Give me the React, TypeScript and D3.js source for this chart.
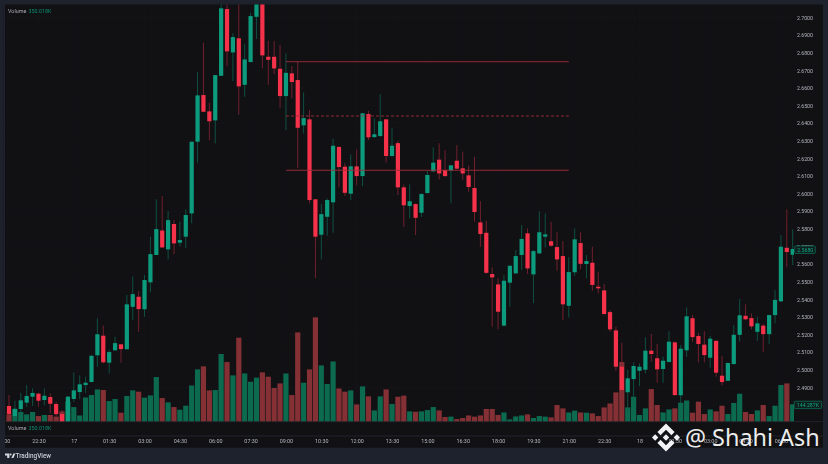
import * as d3 from 'd3';
import React, { useEffect, useRef } from 'react';

// 15 minute candles
const opens = [
  2.4795, 2.4738, 2.4778, 2.4814, 2.4848, 2.4865, 2.4829, 2.4846, 2.4806, 2.4749,
  2.4706, 2.4835, 2.4874, 2.4914, 2.4931, 2.5083, 2.5194, 2.5041, 2.5111, 2.5145,
  2.5117, 2.5358, 2.5415, 2.5344, 2.5497, 2.5652, 2.5791, 2.5684, 2.5828, 2.5722,
  2.5756, 2.5888, 2.6295, 2.6560, 2.6467, 2.6416, 2.6669, 2.7048, 2.6802, 2.6882,
  2.6618, 2.6747, 2.7004, 2.7110, 2.6777, 2.6777, 2.6709, 2.6554, 2.6683, 2.6645,
  2.6388, 2.6422, 2.5968, 2.5767, 2.5869, 2.5951, 2.6265, 2.6153, 2.6000, 2.6155,
  2.6100, 2.6452, 2.6321, 2.6327, 2.6422, 2.6214, 2.6287, 2.6036, 2.5930, 2.5941,
  2.5892, 2.6004, 2.6127, 2.6193, 2.6134, 2.6132, 2.6187, 2.6144, 2.6104, 2.6032,
  2.5837, 2.5778, 2.5544, 2.5485, 2.5251, 2.5495, 2.5548, 2.5652, 2.5775, 2.5542,
  2.5661, 2.5756, 2.5730, 2.5697, 2.5646, 2.5364, 2.5554, 2.5720, 2.5601, 2.5608,
  2.5472, 2.5451, 2.5328, 2.5224, 2.5018, 2.4873, 2.4948, 2.4995, 2.5001, 2.5109,
  2.5066, 2.5005, 2.5045, 2.5156, 2.4856, 2.5111, 2.5293, 2.5192, 2.5143, 2.5069,
  2.5165, 2.4967, 2.4938, 2.5033, 2.5199, 2.5307, 2.5294, 2.5216, 2.5251, 2.5203,
  2.5311, 2.5389, 2.5693, 2.5653,
];
const highs = [
  2.4857, 2.4825, 2.4869, 2.4914, 2.4895, 2.4870, 2.4895, 2.4867, 2.4819, 2.4772,
  2.4852, 2.4986, 2.4969, 2.4961, 2.5084, 2.5293, 2.5251, 2.5113, 2.5188, 2.5147,
  2.5425, 2.5529, 2.5447, 2.5538, 2.5756, 2.5968, 2.5987, 2.5900, 2.5850, 2.5841,
  2.5911, 2.6295, 2.6689, 2.6857, 2.6516, 2.6673, 2.7088, 2.7099, 2.6910, 2.7128,
  2.6848, 2.7027, 2.7156, 2.7167, 2.6868, 2.6866, 2.6845, 2.6797, 2.6724, 2.6749,
  2.6575, 2.6475, 2.5968, 2.5941, 2.5974, 2.6312, 2.6270, 2.6172, 2.6223, 2.6252,
  2.6459, 2.6471, 2.6428, 2.6566, 2.6422, 2.6374, 2.6299, 2.6051, 2.6053, 2.5945,
  2.6002, 2.6130, 2.6263, 2.6286, 2.6248, 2.6161, 2.6276, 2.6238, 2.6159, 2.6210,
  2.5957, 2.5846, 2.5582, 2.5521, 2.5538, 2.5591, 2.5680, 2.5822, 2.5803, 2.5680,
  2.5900, 2.5888, 2.5841, 2.5781, 2.5731, 2.5639, 2.5803, 2.5782, 2.5652, 2.5699,
  2.5557, 2.5487, 2.5340, 2.5245, 2.5154, 2.4999, 2.5043, 2.5037, 2.5185, 2.5203,
  2.5147, 2.5075, 2.5220, 2.5160, 2.5141, 2.5355, 2.5311, 2.5211, 2.5220, 2.5192,
  2.5165, 2.5079, 2.5041, 2.5254, 2.5402, 2.5372, 2.5321, 2.5302, 2.5260, 2.5311,
  2.5453, 2.5765, 2.5911, 2.5798,
];
const lows = [
  2.4734, 2.4715, 2.4755, 2.4791, 2.4795, 2.4791, 2.4800, 2.4753, 2.4734, 2.4698,
  2.4693, 2.4819, 2.4833, 2.4870, 2.4931, 2.5018, 2.5037, 2.4980, 2.5109, 2.5041,
  2.5117, 2.5283, 2.5216, 2.5302, 2.5440, 2.5652, 2.5691, 2.5627, 2.5657, 2.5703,
  2.5690, 2.5832, 2.6176, 2.6463, 2.6304, 2.6286, 2.6669, 2.6724, 2.6639, 2.6448,
  2.6550, 2.6747, 2.6878, 2.6711, 2.6618, 2.6679, 2.6488, 2.6361, 2.6541, 2.6144,
  2.6342, 2.5945, 2.5520, 2.5627, 2.5761, 2.5778, 2.6036, 2.5987, 2.5964, 2.6047,
  2.6043, 2.6304, 2.6319, 2.6325, 2.6176, 2.6211, 2.5992, 2.5812, 2.5860, 2.5765,
  2.5869, 2.6001, 2.6125, 2.6081, 2.6097, 2.5945, 2.6140, 2.6077, 2.6011, 2.5841,
  2.5699, 2.5544, 2.5245, 2.5230, 2.5249, 2.5358, 2.5546, 2.5567, 2.5544, 2.5378,
  2.5659, 2.5695, 2.5699, 2.5563, 2.5283, 2.5298, 2.5533, 2.5571, 2.5520, 2.5449,
  2.5434, 2.5314, 2.5216, 2.4995, 2.4829, 2.4755, 2.4829, 2.4908, 2.4980, 2.5046,
  2.4927, 2.4927, 2.5042, 2.4854, 2.4810, 2.5075, 2.5160, 2.5043, 2.5043, 2.5012,
  2.4961, 2.4912, 2.4937, 2.5031, 2.5160, 2.5285, 2.5230, 2.5165, 2.5103, 2.5147,
  2.5264, 2.5387, 2.5582, 2.5595,
];
const closes = [
  2.4749, 2.4779, 2.4827, 2.4852, 2.4869, 2.4825, 2.4853, 2.4808, 2.4749, 2.4706,
  2.4848, 2.4884, 2.4918, 2.4927, 2.5080, 2.5202, 2.5043, 2.5101, 2.5152, 2.5118,
  2.5372, 2.5430, 2.5345, 2.5510, 2.5657, 2.5799, 2.5695, 2.5850, 2.5718, 2.5737,
  2.5879, 2.6295, 2.6558, 2.6465, 2.6411, 2.6673, 2.7052, 2.6808, 2.6889, 2.6609,
  2.6762, 2.7008, 2.7099, 2.6785, 2.6760, 2.6711, 2.6554, 2.6686, 2.6634, 2.6374,
  2.6429, 2.5964, 2.5756, 2.5884, 2.5964, 2.6272, 2.6151, 2.6005, 2.6155, 2.6100,
  2.6456, 2.6320, 2.6337, 2.6411, 2.6214, 2.6272, 2.6036, 2.5934, 2.5957, 2.5863,
  2.5998, 2.6106, 2.6176, 2.6115, 2.6100, 2.6161, 2.6142, 2.6115, 2.6038, 2.5896,
  2.5771, 2.5551, 2.5525, 2.5330, 2.5506, 2.5591, 2.5646, 2.5743, 2.5576, 2.5674,
  2.5781, 2.5769, 2.5705, 2.5627, 2.5372, 2.5555, 2.5741, 2.5602, 2.5618, 2.5482,
  2.5463, 2.5317, 2.5230, 2.5018, 2.4886, 2.4952, 2.5022, 2.5018, 2.5109, 2.5090,
  2.5003, 2.5052, 2.5160, 2.4857, 2.5120, 2.5304, 2.5186, 2.5147, 2.5084, 2.5177,
  2.4984, 2.4931, 2.5039, 2.5199, 2.5310, 2.5287, 2.5247, 2.5264, 2.5203, 2.5311,
  2.5397, 2.5699, 2.5669, 2.5686,
];
// thousands
const volumes = [
  61, 106, 81, 61, 81, 47, 56, 56, 42, 86,
  167, 122, 52, 202, 222, 269, 264, 172, 189, 75,
  214, 261, 250, 200, 219, 372, 197, 161, 122, 100,
  133, 302, 436, 461, 261, 264, 564, 497, 386, 700,
  402, 333, 367, 411, 375, 281, 319, 402, 222, 744,
  325, 436, 869, 469, 314, 502, 277, 250, 261, 144,
  294, 211, 94, 211, 269, 147, 208, 217, 86, 83,
  86, 97, 122, 94, 39, 42, 22, 31, 52, 42,
  52, 106, 106, 56, 77, 19, 44, 52, 61, 31,
  47, 42, 36, 139, 111, 77, 92, 77, 75, 69,
  47, 119, 152, 244, 497, 119, 208, 56, 111, 272,
  139, 77, 102, 111, 158, 177, 75, 167, 64, 102,
  86, 133, 64, 156, 233, 81, 64, 94, 139, 47,
  133, 306, 319, 144.287,
];

const priceTicks = d3.range(49, 71).map((d) => d / 100 + 2);
const timeLabels = [
  '21:00', '22:30', '17', '01:30', '03:00', '04:30', '06:00', '07:30', '09:00', '10:30', '12:00', '13:30',
  '15:00', '16:30', '18:00', '19:30', '21:00', '22:30', '18', '01:30', '03:00', '04:30', '06:00',
];
const timeIndexes = timeLabels.map((_, i) => i * 6 - 1);

// drawn levels: start candle, end candle, price
const levelStart = 47;
const levelEnd = 95;
const levelPrices = [2.6749, 2.6441, 2.6133];
const levelDashes = ['', '3,2', ''];

const volumeLegend = '350.018K';
const volumeLast = '144.287K';
const lastPrice = '2.5680';

const GREEN = '#0d9b7e';
const RED = '#f5324a';
const FONT = 'Roboto, sans-serif';

const App: React.FC = () => {
  const ref = useRef<SVGSVGElement | null>(null);

  useEffect(() => {
    if (!ref.current) return;
    const width = 828;
    const height = 464;

    const svg = d3.select(ref.current);
    svg.selectAll('*').remove();

    const plot = { left: 5, right: 794, top: 4.5, bottom: 421.7 };
    const panelRight = 823;
    const footerTop = 447.7;

    const x = d3.scaleLinear().domain([0, 133]).range([9, 792.7]);
    const y = d3.scaleLinear().domain([2.7, 2.49]).range([17.5, 387.5]);
    const yVol = d3.scaleLinear().domain([0, 869]).range([plot.bottom, 317.4]);

    // the source screenshot is soft, everything but the watermark gets a slight blur
    const root = svg.append('g').style('filter', 'blur(0.35px)');

    root.append('rect').attr('width', width).attr('height', height).attr('fill', '#1e222d');
    root
      .append('rect')
      .attr('x', plot.left)
      .attr('y', plot.top)
      .attr('width', panelRight - plot.left)
      .attr('height', footerTop - plot.top)
      .attr('fill', '#111114');

    svg
      .append('clipPath')
      .attr('id', 'plot-clip')
      .append('rect')
      .attr('x', plot.left)
      .attr('y', plot.top)
      .attr('width', plot.right - plot.left)
      .attr('height', plot.bottom - plot.top);
    svg
      .append('clipPath')
      .attr('id', 'time-clip')
      .append('rect')
      .attr('x', plot.left)
      .attr('y', 436)
      .attr('width', panelRight - plot.left)
      .attr('height', 12);

    // Grid
    const grid = root.append('g').attr('stroke', '#19191d').attr('stroke-width', 0.7).attr('stroke-dasharray', '1,1');
    priceTicks.forEach((p) => {
      grid.append('line').attr('x1', plot.left).attr('x2', plot.right + 3).attr('y1', y(p)).attr('y2', y(p));
    });
    timeIndexes.forEach((t) => {
      grid.append('line').attr('x1', x(t)).attr('x2', x(t)).attr('y1', plot.top).attr('y2', plot.bottom);
    });

    const g = root.append('g').attr('clip-path', 'url(#plot-clip)');
    const idx = d3.range(opens.length);
    const isUp = (i: number) => closes[i] >= opens[i];

    // Volume bars
    g.append('g')
      .selectAll('rect')
      .data(idx)
      .enter()
      .append('rect')
      .attr('x', (i) => x(i) - 2.6)
      .attr('width', 5.2)
      .attr('y', (i) => yVol(volumes[i]))
      .attr('height', (i) => plot.bottom - yVol(volumes[i]))
      .attr('fill', (i) => (isUp(i) ? '#0c6a4f' : '#853035'));

    // Wicks
    g.append('g')
      .selectAll('line')
      .data(idx)
      .enter()
      .append('line')
      .attr('x1', (i) => x(i))
      .attr('x2', (i) => x(i))
      .attr('y1', (i) => y(highs[i]))
      .attr('y2', (i) => y(lows[i]))
      .attr('stroke-width', 0.8)
      .attr('stroke', (i) => (isUp(i) ? '#0e5f4d' : '#8a2333'));

    // Bodies
    g.append('g')
      .selectAll('rect')
      .data(idx)
      .enter()
      .append('rect')
      .attr('x', (i) => x(i) - 2.1)
      .attr('width', 4.2)
      .attr('y', (i) => y(Math.max(opens[i], closes[i])))
      .attr('height', (i) => Math.max(1, Math.abs(y(opens[i]) - y(closes[i]))))
      .attr('fill', (i) => (isUp(i) ? GREEN : RED));

    // Level lines
    levelPrices.forEach((p, i) => {
      root
        .append('line')
        .attr('x1', x(levelStart))
        .attr('x2', x(levelEnd))
        .attr('y1', y(p))
        .attr('y2', y(p))
        .attr('stroke', '#a32c3b')
        .attr('stroke-width', 0.9)
        .attr('stroke-dasharray', levelDashes[i]);
    });

    // Price axis
    const priceAxis = root
      .append('g')
      .attr('transform', `translate(${plot.right},0)`)
      .call(d3.axisRight(y).tickValues(priceTicks).tickSize(0).tickPadding(3).tickFormat(d3.format('.4f') as any));
    priceAxis.select('.domain').remove();
    priceAxis.selectAll('text').attr('fill', '#b4b7c0').style('font-family', FONT).style('font-size', '5.2px');

    // Panel separators
    [plot.bottom, 436].forEach((sy) => {
      root
        .append('line')
        .attr('x1', plot.left)
        .attr('x2', panelRight)
        .attr('y1', sy)
        .attr('y2', sy)
        .attr('stroke', '#2a2c33')
        .attr('stroke-width', 0.7);
    });

    // Time axis
    const timeAxis = root
      .append('g')
      .attr('clip-path', 'url(#time-clip)')
      .append('g')
      .attr('transform', 'translate(0,436)')
      .call(
        d3
          .axisBottom(x)
          .tickValues(timeIndexes)
          .tickSize(0)
          .tickPadding(3)
          .tickFormat((_, i) => timeLabels[i]) as any,
      );
    timeAxis.select('.domain').remove();
    timeAxis.selectAll('text').attr('fill', '#b4b7c0').style('font-family', FONT).style('font-size', '5.4px');

    // Volume legends
    [11.5, 428.5].forEach((ly) => {
      root
        .append('text')
        .attr('x', 8)
        .attr('y', ly + 1.8)
        .attr('fill', '#a9acb5')
        .style('font-family', FONT)
        .style('font-size', '5.4px')
        .text('Volume');
      root
        .append('text')
        .attr('x', 28.5)
        .attr('y', ly + 1.8)
        .attr('fill', '#0c8f70')
        .style('font-family', FONT)
        .style('font-size', '5.4px')
        .text(volumeLegend);
    });

    // Last value tags
    const tags = [
      { x0: 794.7, x1: 815.3, cy: 249.7, text: lastPrice },
      { x0: 794.2, x1: 821.7, cy: 404.9, text: volumeLast },
    ];
    tags.forEach((t) => {
      root
        .append('rect')
        .attr('x', t.x0)
        .attr('y', t.cy - 3.7)
        .attr('width', t.x1 - t.x0)
        .attr('height', 7.4)
        .attr('rx', 1)
        .attr('fill', '#0e1f1c')
        .attr('stroke', '#0c7a60')
        .attr('stroke-width', 0.7);
      root
        .append('text')
        .attr('x', t.x0 + 2.6)
        .attr('y', t.cy + 1.9)
        .attr('fill', '#11a585')
        .style('font-family', FONT)
        .style('font-size', '5.2px')
        .text(t.text);
    });

    // Footer
    const tv = root.append('g').attr('fill', '#d6d8de').attr('transform', 'translate(5,453.4)');
    tv.append('path').attr('d', 'M0 0h4.4v4.6h-2.2v-2.4h-2.2zM6.4 4.6l2-4.6h2l-2 4.6z');
    tv.append('circle').attr('cx', 5.6).attr('cy', 1).attr('r', 1);
    root
      .append('text')
      .attr('x', 15.5)
      .attr('y', 458.4)
      .attr('fill', '#c9ccd3')
      .style('font-family', FONT)
      .style('font-weight', '500')
      .style('font-size', '6.4px')
      .text('TradingView');

    // Watermark
    const logo = svg.append('g').attr('transform', 'translate(652,423.5) scale(0.2211)').attr('fill', '#f2f3f4');
    [
      'M38.73 53.2L63.3 28.63l24.58 24.58 14.3-14.29L63.3 0 24.43 38.88z',
      'M0 63.31l14.3-14.3 14.29 14.3-14.29 14.29z',
      'M38.73 73.41L63.3 97.98l24.58-24.58 14.3 14.29L63.3 126.61 24.43 87.73z',
      'M98.02 63.31l14.3-14.3 14.29 14.3-14.29 14.29z',
      'M77.83 63.3L63.3 48.76 48.78 63.28 63.3 77.81z',
    ].forEach((d) => logo.append('path').attr('d', d));
    svg
      .append('text')
      .attr('x', 685)
      .attr('y', 446.3)
      .attr('fill', '#eceded')
      .style('font-family', '"Noto Sans", sans-serif')
      .style('font-size', '23.4px')
      .text('@ Shahi Ash');
  }, []);

  return <svg ref={ref} width={828} height={464} style={{ position: 'absolute', left: 0, top: 0 }} />;
};

export default App;
